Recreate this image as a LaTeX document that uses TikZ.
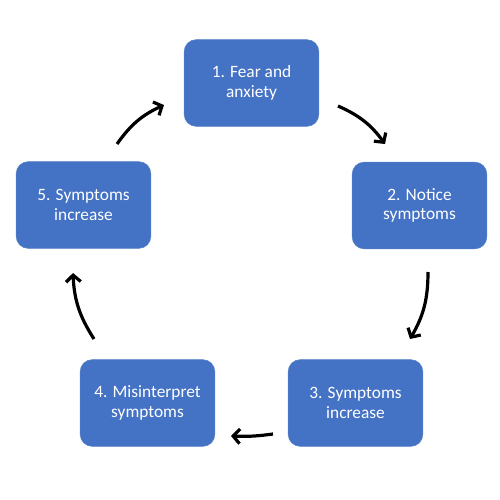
\documentclass[tikz,border=0pt]{standalone}
\usepackage{fontspec}
\setmainfont{Carlito}
\usetikzlibrary{arrows.meta}
\definecolor{boxblue}{HTML}{4472C4}
\tikzset{
  stage/.style={fill=boxblue, draw=boxblue!90!white, rounded corners=9pt,
    minimum width=101pt, minimum height=65pt, inner sep=0pt,
    text=white, align=center, font=\fontsize{13}{14.5}\selectfont},
  cyc/.style={line width=2.4pt, -{Straight Barb[length=5pt,width=11pt,line width=2.4pt]}}
}
\begin{document}
\begin{tikzpicture}[x=0.75pt,y=-0.75pt]
\useasboundingbox (0,0) rectangle (500,500);
\node[stage] (n1) at (251.5,83) {1. Fear and\\anxiety};
\node[stage] (n2) at (419.5,205.5) {2. Notice\\symptoms};
\node[stage] (n3) at (355.5,403) {3. Symptoms\\increase};
\node[stage] (n4) at (147.5,403) {4. Misinterpret\\symptoms};
\node[stage] (n5) at (83.5,205) {5. Symptoms\\increase};
\coordinate (a1s) at (338,106); \coordinate (a1e) at (385,144);
\coordinate (a2s) at (428,272); \coordinate (a2e) at (410,339);
\coordinate (a3s) at (273,434); \coordinate (a3e) at (231,436);
\coordinate (a4s) at (94,339);  \coordinate (a4e) at (73,273);
\coordinate (a5s) at (117,144); \coordinate (a5e) at (164,105);
\draw[cyc] (a1s) to[bend left=15] (a1e);
\draw[cyc] (a2s) to[bend left=15] (a2e);
\draw[cyc] (a3s) to[bend left=5] (a3e);
\draw[cyc] (a4s) to[bend left=15] (a4e);
\draw[cyc] (a5s) to[bend left=15] (a5e);
\end{tikzpicture}
\end{document}
